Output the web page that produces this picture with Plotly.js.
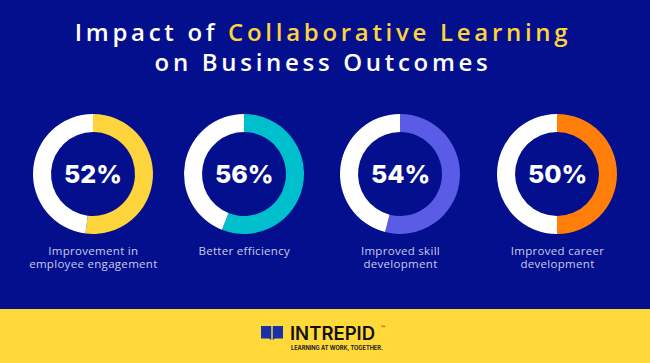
<!DOCTYPE html>
<html>
<head>
<meta charset="utf-8">
<script src="https://cdn.plot.ly/plotly-3.0.1.min.js"></script>
<style>
html,body{margin:0;padding:0;background:#030F8C;}
#chart{width:650px;height:363px;}
</style>
</head>
<body>
<div id="chart"></div>
<script>
// Data
const categories = ["Improvement in<br>employee engagement", "Better efficiency", "Improved skill<br>development", "Improved career<br>development"];
const percentValues = [52, 56, 54, 50];
const percentLabels = ["52%", "56%", "54%", "50%"];
const sliceColors = ["#FDD43C", "#00BFCC", "#5A5BE6", "#FF7F0A"];
const titleText = 'Impact of <span style="color:#FDD43C">Collaborative Learning</span><br>on Business Outcomes';

const W = 650, H = 363;
const centersX = [93, 244, 400, 557];
const centerY = 174; // from top
const R = 60;
const BG = "#030F8C";

const traces = percentValues.map((v, i) => ({
  type: "pie",
  values: [v, 100 - v],
  labels: ["value", "rest"],
  marker: {colors: [sliceColors[i], "#FFFFFF"], line: {width: 0}},
  hole: 0.7,
  sort: false,
  direction: "clockwise",
  rotation: 0,
  textinfo: "none",
  hoverinfo: "skip",
  showlegend: false,
  automargin: false,
  domain: {
    x: [(centersX[i] - R) / W, (centersX[i] + R) / W],
    y: [(H - centerY - R) / H, (H - centerY + R) / H]
  }
}));

const annotations = [];
// Title (index 0)
annotations.push({
  text: titleText,
  x: 0.497, y: 1 - 14 / H, xref: "paper", yref: "paper", showarrow: false,
  xanchor: "center", yanchor: "top", align: "center", borderpad: 0,
  font: {family: "Open Sans", size: 24, color: "#FFFFFF", weight: 600}
});
// Percent labels and category labels
percentLabels.forEach((t, i) => {
  annotations.push({
    text: t, x: centersX[i] / W, y: 1 - centerY / H, xref: "paper", yref: "paper",
    showarrow: false, xanchor: "center", yanchor: "middle",
    font: {family: "Inter", size: 25, color: "#FFFFFF", weight: 800}
  });
  annotations.push({
    text: categories[i], x: centersX[i] / W, y: 1 - 241 / H, xref: "paper", yref: "paper",
    showarrow: false, xanchor: "center", yanchor: "top", align: "center",
    font: {family: "Open Sans", size: 11.5, color: "#C9CCEC"}
  });
});
// Logo text
annotations.push({
  text: "INTREPID", x: 288 / W, y: 1 - 333 / H, xref: "paper", yref: "paper",
  showarrow: false, xanchor: "left", yanchor: "middle",
  font: {family: "Inter", size: 18.5, color: "#111111", weight: 600}
});
annotations.push({
  text: "™", x: 378 / W, y: 1 - 327 / H, xref: "paper", yref: "paper",
  showarrow: false, xanchor: "left", yanchor: "middle",
  font: {family: "DejaVu Sans", size: 6, color: "#111111"}
});
annotations.push({
  text: "LEARNING AT WORK, TOGETHER.", x: 289 / W, y: 1 - 348 / H, xref: "paper", yref: "paper",
  showarrow: false, xanchor: "left", yanchor: "middle",
  font: {family: "Inter", size: 5.6, color: "#222222", weight: 700}
});

const shapes = [
  {type: "rect", xref: "paper", yref: "paper", x0: 0, x1: 1, y0: 0, y1: 1 - 309 / H,
   fillcolor: "#FFD83A", line: {width: 0}, layer: "below"},
  // book icon
  {type: "path", xref: "paper", yref: "paper",
   path: `M ${261/W} ${1-326/H} L ${271.3/W} ${1-326/H} L ${271.3/W} ${1-340/H} L ${269/W} ${1-338.5/H} L ${261/W} ${1-338.5/H} Z`,
   fillcolor: "#1B2FA8", line: {width: 0}},
  {type: "path", xref: "paper", yref: "paper",
   path: `M ${272.7/W} ${1-326/H} L ${283/W} ${1-326/H} L ${283/W} ${1-338.5/H} L ${275/W} ${1-338.5/H} L ${272.7/W} ${1-340/H} Z`,
   fillcolor: "#1B2FA8", line: {width: 0}}
];

const layout = {
  width: W, height: H,
  margin: {l: 0, r: 0, t: 0, b: 0},
  paper_bgcolor: BG, plot_bgcolor: BG,
  showlegend: false,
  annotations: annotations,
  shapes: shapes
};

function tightenLines(textEl, factor) {
  textEl.querySelectorAll("tspan.line").forEach(ts => {
    const dy = ts.getAttribute("dy");
    if (dy && dy.endsWith("em")) {
      ts.setAttribute("dy", (parseFloat(dy) * factor) + "em");
    }
  });
}

Plotly.newPlot("chart", traces, layout, {displayModeBar: false, staticPlot: true}).then(() => {
  const texts = document.querySelectorAll(".annotation-text");
  if (texts[0]) {
    texts[0].style.letterSpacing = "3.7px";
    tightenLines(texts[0], 0.96);
  }
  [2, 4, 6, 8].forEach(k => {
    if (texts[k]) {
      texts[k].style.letterSpacing = "0.3px";
      tightenLines(texts[k], 0.9);
    }
  });
});
</script>
</body>
</html>
